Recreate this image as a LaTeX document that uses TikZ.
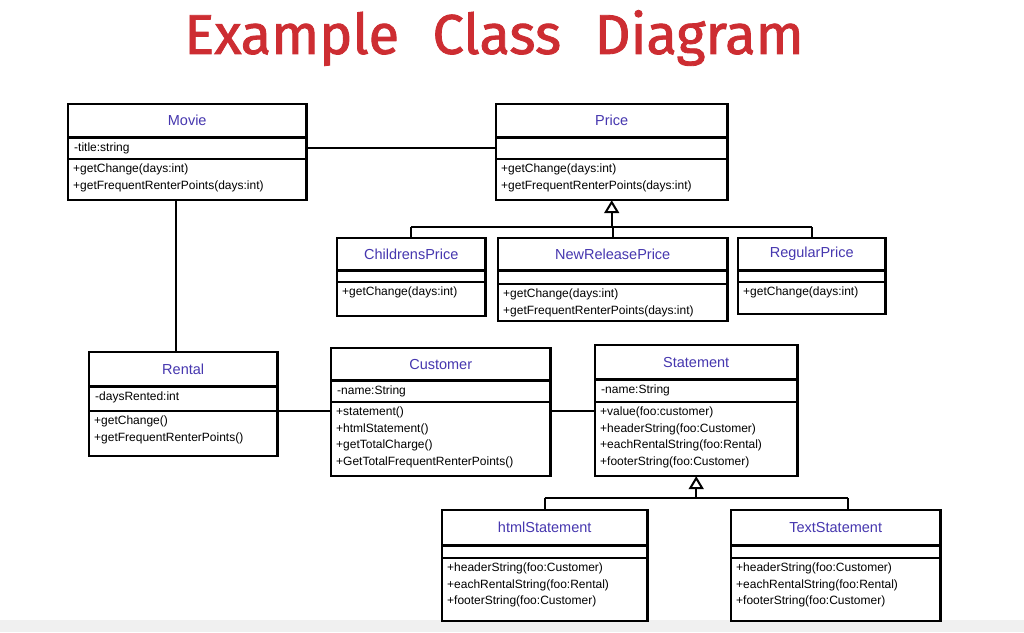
\documentclass[tikz,border=0pt]{standalone}
\usepackage{fontspec}
\setmainfont{Liberation Sans}
\newfontfamily\titlefont{Fira Sans}
\usetikzlibrary{arrows.meta}
\definecolor{ttl}{RGB}{205,45,50}
\definecolor{cls}{RGB}{70,55,175}
\tikzset{
  x=1pt,y=-1pt,
  cbox/.style={inner sep=0pt,anchor=north west},
  ctitle/.style={cbox,text=cls,font=\fontsize{14.5}{16}\selectfont},
  ctext/.style={anchor=north west,align=left,inner sep=0pt,font=\fontsize{12}{16.5}\selectfont},
  frame/.style={draw,line width=2.4pt},
  con/.style={line width=2.4pt},
  inh/.style={line width=2.4pt,-{Triangle[open,length=13pt,width=15pt,line width=2pt]}}
}
\newcommand\umlclass[9]{%
  \node[ctitle,minimum width=#4,minimum height=#5] (#1-t) at (#2,#3) {#8};
  \node[cbox,minimum width=#4,minimum height=#6] (#1-a) at (#1-t.south west) {};
  \node[cbox,minimum width=#4,minimum height=#7] (#1-m) at (#1-a.south west) {};
  \draw[frame] (#1-t.north west) rectangle (#1-m.south east);
  \draw[frame] (#1-t.south west) -- (#1-t.south east);
  \draw[frame] (#1-a.south west) -- (#1-a.south east);
  \node[ctext] (#1-at) at ([xshift=6pt,yshift=-5pt]#1-a.north west) {#9};}
\newcommand\umlmeth[2]{\node[ctext] (#1-mt) at ([xshift=5pt,yshift=-5pt]#1-m.north west) {#2};}
\begin{document}
\begin{tikzpicture}
\useasboundingbox[fill=white] (0,0) rectangle (1024,632);
\fill[gray!12] (0,620) rectangle (1024,632);
\node[text=ttl,font=\titlefont\fontsize{56}{58}\selectfont\addfontfeatures{FakeBold=1.5}] (title) at (494,38) {Example\,\, Class\,\, Diagram};

\umlclass{movie}{68}{104}{238}{33}{21}{41}{Movie}{-title:string}
\umlmeth{movie}{+getChange(days:int)\\+getFrequentRenterPoints(days:int)}
\umlclass{price}{496}{104}{231}{33}{21}{41}{Price}{}
\umlmeth{price}{+getChange(days:int)\\+getFrequentRenterPoints(days:int)}
\umlclass{child}{337}{238}{148}{32}{11}{34}{ChildrensPrice}{}
\umlmeth{child}{+getChange(days:int)}
\umlclass{newrel}{498}{238}{229}{32}{13}{37}{NewReleasePrice}{}
\umlmeth{newrel}{+getChange(days:int)\\+getFrequentRenterPoints(days:int)}
\umlclass{reg}{738}{238}{147}{32}{11}{32}{RegularPrice}{}
\umlmeth{reg}{+getChange(days:int)}
\umlclass{rental}{89}{352}{188}{34}{24}{45}{Rental}{-daysRented:int}
\umlmeth{rental}{+getChange()\\+getFrequentRenterPoints()}
\umlclass{cust}{331}{348}{219}{32}{21}{74}{Customer}{-name:String}
\umlmeth{cust}{+statement()\\+htmlStatement()\\+getTotalCharge()\\+GetTotalFrequentRenterPoints()}
\umlclass{stmt}{595}{345}{202}{34}{22}{74}{Statement}{-name:String}
\umlmeth{stmt}{+value(foo:customer)\\+headerString(foo:Customer)\\+eachRentalString(foo:Rental)\\+footerString(foo:Customer)}
\umlclass{html}{442}{510}{205}{35}{12}{63}{htmlStatement}{}
\umlmeth{html}{+headerString(foo:Customer)\\+eachRentalString(foo:Rental)\\+footerString(foo:Customer)}
\umlclass{text}{731}{510}{209}{35}{12}{63}{TextStatement}{}
\umlmeth{text}{+headerString(foo:Customer)\\+eachRentalString(foo:Rental)\\+footerString(foo:Customer)}

\draw[con] (movie-a.east) -- (price-a.west);
\draw[con] ([xshift=-11pt]movie-m.south) -- ([xshift=-11pt]movie-m.south |- rental-t.north);
\draw[con] (rental-m.north east) -- (cust-t.west |- rental-m.north east);
\draw[con] ([yshift=-9pt]cust-m.north east) -- ([yshift=-9pt]stmt-m.north west);

\coordinate (pb) at ([yshift=-27pt]price-m.south);
\draw[inh] (pb) -- (price-m.south);
\draw[con] (child-t.north |- pb) -- (reg-t.north |- pb);
\draw[con] (child-t.north |- pb) -- (child-t.north);
\draw[con] (newrel-t.north |- pb) -- (newrel-t.north);
\draw[con] (reg-t.north |- pb) -- (reg-t.north);

\coordinate (sb) at ([yshift=-22pt]stmt-m.south);
\draw[inh] (sb) -- (stmt-m.south);
\draw[con] (html-t.north |- sb) -- ([xshift=12pt]text-t.north |- sb);
\draw[con] (html-t.north |- sb) -- (html-t.north);
\draw[con] ([xshift=12pt]text-t.north |- sb) -- ([xshift=12pt]text-t.north);
\end{tikzpicture}
\end{document}
